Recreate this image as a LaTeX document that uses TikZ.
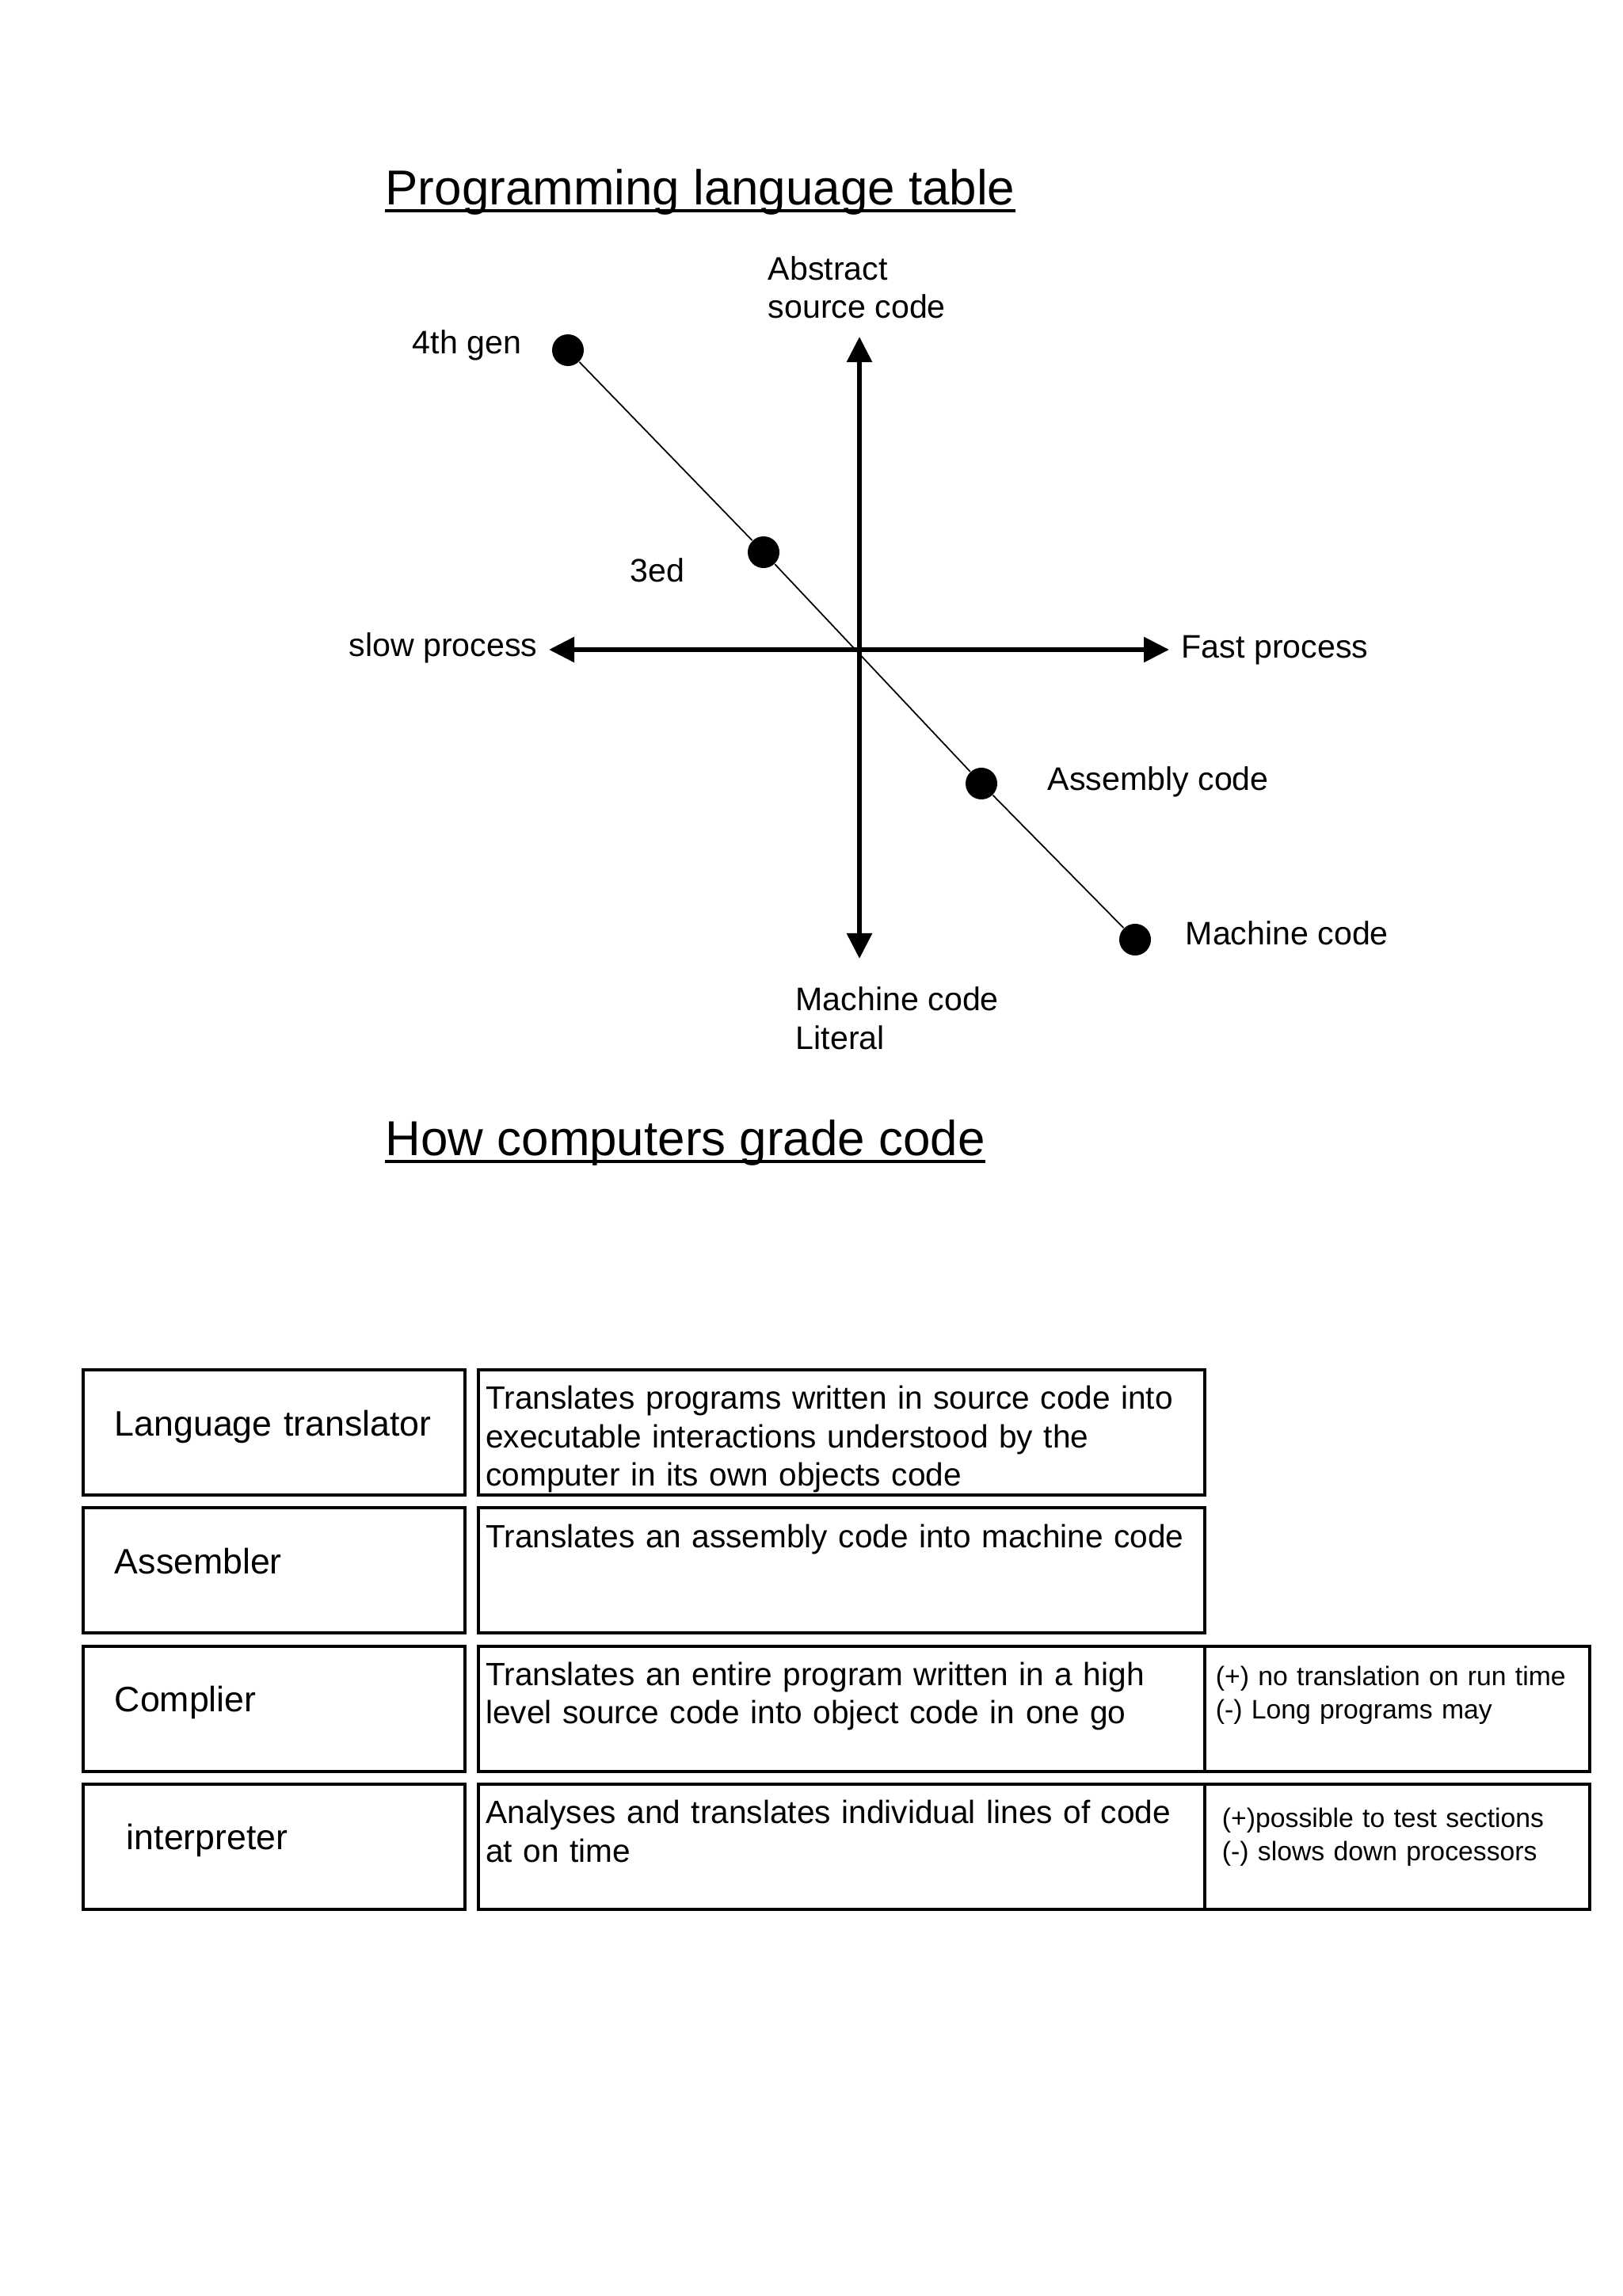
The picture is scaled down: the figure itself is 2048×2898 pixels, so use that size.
\documentclass[tikz,border=0pt]{standalone}
\usepackage{fontspec}
\setmainfont{Liberation Sans}
\usepackage{tikz}
\usetikzlibrary{arrows.meta, positioning}

\begin{document}
\begin{tikzpicture}[x=0.01cm, y=-0.01cm, node distance=0.12cm and 0.13cm,
  heading/.style={font=\fontsize{17.6}{21}\selectfont, inner sep=0pt, anchor=base west},
  lbl/.style={font=\fontsize{11.7}{13.7}\selectfont, inner sep=0pt,
    anchor=base west, align=left},
  dot/.style={circle, fill=black, minimum size=0.4cm, inner sep=0pt},
  axis/.style={<->, >={Triangle[length=0.32cm, width=0.31cm]}, line width=1.7pt},
  namebox/.style={draw, line width=1.2pt, text width=4.02cm,
    inner xsep=0.4cm, inner ysep=0pt, text height=0.83cm, text depth=0.75cm,
    align=left, font=\fontsize{12.7}{15}\selectfont},
  descbox/.style={draw, line width=1.2pt, text width=8.98cm,
    inner xsep=0.09cm, inner ysep=0pt, text height=0.50cm, text depth=1.08cm,
    align=left, font=\fontsize{11.55}{13.7}\selectfont},
  notebox/.style={draw, line width=1.2pt, text width=4.58cm,
    inner xsep=0.14cm, inner ysep=0pt, text height=0.50cm, text depth=1.08cm,
    align=left, font=\fontsize{9.6}{11.9}\selectfont}]

  \useasboundingbox (0,0) rectangle (2048,2898);

  % language chart
  \node[heading] (title1) at (486,259) {Programming language table};
  \draw[line width=0.9pt] ([yshift=-0.07cm]title1.base west) -- ([yshift=-0.07cm]title1.base east);

  \coordinate (ax-top) at (1085,425);
  \coordinate (ax-bot) at (1085,1210);
  \coordinate (ax-left) at (693,820);
  \coordinate (ax-right) at (1476,820);
  \draw[axis] (ax-top) -- (ax-bot);
  \draw[axis] (ax-left) -- (ax-right);

  \node[dot] (gen4) at (717,442) {};
  \node[dot] (gen3) at (964,697) {};
  \node[dot] (asm) at (1239,989) {};
  \node[dot] (mach) at (1433,1186) {};
  \draw[line width=0.5pt] (gen4) -- (gen3) -- (asm) -- (mach);

  \node[lbl] (abstract) at (969,402) {Abstract\\source code};
  \node[lbl] (gen4-l) at (520,447) {4th gen};
  \node[lbl] (gen3-l) at (795,735) {3ed};
  \node[lbl] (slow) at (440,829) {slow process};
  \node[lbl] (fast) at (1491,831) {Fast process};
  \node[lbl] (asm-l) at (1322,997) {Assembly code};
  \node[lbl] (mach-l) at (1496,1192) {Machine code};
  \node[lbl] (literal) at (1004,1324) {Machine code\\Literal};

  % translator table
  \node[heading] (title2) at (486,1458) {How computers grade code};
  \draw[line width=0.9pt] ([yshift=-0.08cm]title2.base west) -- ([yshift=-0.08cm]title2.base east);

  \node[namebox] (lt) at (346,1808) {Language translator};
  \node[namebox, below=of lt] (asmb) {Assembler};
  \node[namebox, below=of asmb] (comp) {Complier};
  \node[namebox, below=of comp] (intp) {\hspace*{0.15cm}interpreter};

  \node[descbox, right=of lt] (lt-d) {Translates programs written in source code into\\
    executable interactions understood by the\\computer in its own objects code};
  \node[descbox, right=of asmb] (asmb-d) {Translates an assembly code into machine code};
  \node[descbox, right=of comp] (comp-d) {Translates an entire program written in a high\\
    level source code into object code in one go};
  \node[descbox, right=of intp] (intp-d) {Analyses and translates individual lines of code\\at on time};

  \node[notebox, right=-1.2pt of comp-d] (comp-n) {(+) no translation on run time\\(-) Long programs may};
  \node[notebox, right=-1.2pt of intp-d, text height=0.55cm, text depth=1.03cm] (intp-n)
    {\hspace*{0.08cm}(+)possible to test sections\\\hspace*{0.08cm}(-) slows down processors};

\end{tikzpicture}
\end{document}
